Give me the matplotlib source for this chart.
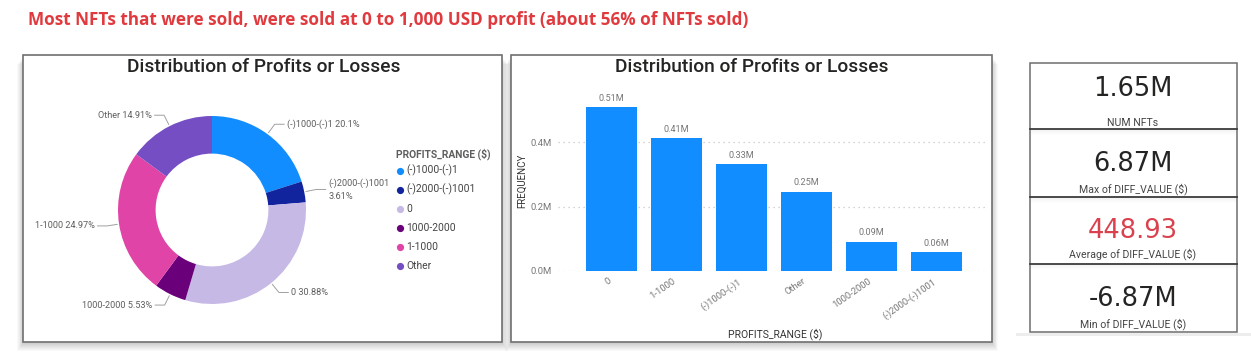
import matplotlib
matplotlib.use("Agg")
import matplotlib.pyplot as plt
import numpy as np
from matplotlib.patches import Rectangle
from matplotlib.transforms import ScaledTranslation

# ---------------- data ----------------
headline = "Most NFTs that were sold, were sold at 0 to 1,000 USD profit (about 56% of NFTs sold)"
chart_title = "Distribution of Profits or Losses"

pie_categories = ["(-)1000-(-)1", "(-)2000-(-)1001", "0", "1000-2000", "1-1000", "Other"]
pie_percent = [20.10, 3.61, 30.88, 5.53, 24.97, 14.91]
pie_colors = ["#118DFF", "#12239E", "#C6B9E6", "#6B007B", "#E044A7", "#744EC2"]
pie_label_wrap = [False, True, False, False, False, False]
legend_title = "PROFITS_RANGE ($)"

bar_categories = ["0", "1-1000", "(-)1000-(-)1", "Other", "1000-2000", "(-)2000-(-)1001"]
bar_values = [0.5095, 0.412, 0.332, 0.246, 0.0912, 0.0596]   # millions
y_ticks = [0.0, 0.2, 0.4]
y_tick_labels = ["0.0M", "0.2M", "0.4M"]
x_label = "PROFITS_RANGE ($)"
y_label = "FREQUENCY"

card_values = ["1.65M", "6.87M", "448.93", "-6.87M"]
card_labels = ["NUM NFTs", "Max of DIFF_VALUE ($)", "Average of DIFF_VALUE ($)", "Min of DIFF_VALUE ($)"]
card_colors = ["#252423", "#252423", "#D9414E", "#252423"]

# ---------------- figure ----------------
W, H = 1251, 360
fig = plt.figure(figsize=(W / 100, H / 100), dpi=100)
fig.patch.set_facecolor("white")

bg = fig.add_axes([0, 0, 1, 1])
bg.set_xlim(0, W)
bg.set_ylim(H, 0)
bg.axis("off")
bg.set_zorder(0)

FONT = "Roboto"
TXT = "#605E5C"


def panel(x0, y0, x1, y1):
    for i in range(1, 9):
        bg.add_patch(Rectangle((x0 - 0.7 * i, y0 + 1 + i), (x1 - x0) + 1.4 * i, (y1 - y0),
                               facecolor="black", edgecolor="none", alpha=0.022))
    bg.add_patch(Rectangle((x0, y0), x1 - x0, y1 - y0, facecolor="white",
                           edgecolor="#707070", lw=1.2))


panel(23, 55, 502, 342)
panel(511, 55, 992, 342)

# headline
bg.text(28, 20, headline, color="#E03A3E", fontsize=12.3, fontweight="bold",
        family="Open Sans", ha="left", va="center")

# panel titles
bg.text(264, 67, chart_title, fontsize=13.8, fontweight="medium", family=FONT,
        color="#252423", ha="center", va="center")
bg.text(752, 67, chart_title, fontsize=13.8, fontweight="medium", family=FONT,
        color="#252423", ha="center", va="center")

# ---------------- donut ----------------
cx, cy, R = 212, 210, 94
half = 150
pax = fig.add_axes([(cx - half) / W, 1 - (cy + half) / H, 2 * half / W, 2 * half / H])
pax.set_zorder(2)
pax.patch.set_alpha(0)
wedges, _ = pax.pie(pie_percent, colors=pie_colors, startangle=90, counterclock=False,
                    radius=1, wedgeprops=dict(width=0.4, edgecolor="none"))
lim = half / R
pax.set_xlim(-lim, lim)
pax.set_ylim(-lim, lim)
pax.set_aspect("equal")
pax.axis("off")


def fmt_pct(p):
    s = f"{p:.2f}".rstrip("0").rstrip(".")
    return s + "%"


for w, cat, p, wrap in zip(wedges, pie_categories, pie_percent, pie_label_wrap):
    th = np.deg2rad((w.theta1 + w.theta2) / 2)
    c, s = np.cos(th), np.sin(th)
    sg = 1 if c >= 0 else -1
    p0 = (1.02 * c, 1.02 * s)
    p1 = (1.13 * c, 1.13 * s)
    p2 = (p1[0] + 0.10 * sg, p1[1])
    pax.plot([p0[0], p1[0], p2[0]], [p0[1], p1[1], p2[1]], color="#A0A0A0", lw=0.7,
             clip_on=False)
    label = f"{cat}\n{fmt_pct(p)}" if wrap else f"{cat} {fmt_pct(p)}"
    pax.text(p2[0] + 0.03 * sg, p2[1], label, ha="left" if sg > 0 else "right", va="center",
             fontsize=6.6, color=TXT, family=FONT, linespacing=1.5, clip_on=False)

# legend
bg.text(396, 154, legend_title, fontsize=7.4, fontweight="bold", color="#605E5C",
        family=FONT, ha="left", va="center")
for i, (cat, col) in enumerate(zip(pie_categories, pie_colors)):
    yy = 170.5 + i * 19.1
    bg.plot([400], [yy], marker="o", ms=5.2, color=col, mec="none")
    bg.text(406, yy, cat, fontsize=7.4, color="#444444", family=FONT, ha="left", va="center")

# ---------------- bar chart ----------------
ax_l, ax_r, ax_b, ax_t = 558, 987, 271, 90.4
bax = fig.add_axes([ax_l / W, 1 - ax_b / H, (ax_r - ax_l) / W, (ax_b - ax_t) / H])
bax.set_zorder(2)
bax.patch.set_alpha(0)
xpos = np.arange(len(bar_categories))
bars = bax.bar(xpos, bar_values, width=0.78, color="#118DFF", zorder=3)
bax.set_xlim(-0.82, 5.77)
bax.set_ylim(0, 0.56)
for sp in bax.spines.values():
    sp.set_visible(False)
bax.set_yticks(y_ticks)
bax.set_yticklabels(y_tick_labels, fontsize=6.8, color="#777777", family=FONT)
bax.yaxis.grid(True, linestyle=(0, (1, 3)), color="#C8C6C4", lw=0.9, zorder=0)
bax.tick_params(axis="both", length=0)
bax.tick_params(axis="y", pad=4.5)
bax.set_xticks(xpos)
bax.set_xticklabels(bar_categories, rotation=35, ha="right", rotation_mode="anchor",
                    fontsize=6.8, color="#777777", family=FONT)
bax.tick_params(axis="x", pad=4)
off = ScaledTranslation(-4 / 100, 0, fig.dpi_scale_trans)
for lab in bax.get_xticklabels():
    lab.set_transform(lab.get_transform() + off)
bax.bar_label(bars, labels=[f"{v:.2f}M" for v in bar_values], padding=3, fontsize=6.6,
              color="#777777", family=FONT)
bax.set_ylabel(y_label, fontsize=7, color="#333333", family=FONT)
bax.yaxis.set_label_coords(-0.073, 0.5)
bax.set_xlabel(x_label, fontsize=7.5, color="#333333", family=FONT)
bax.xaxis.set_label_coords(0.506, -0.316)

# ---------------- cards ----------------
cx0, cx1 = 1030, 1237
edges = [63, 129, 197, 264, 332]
vals_y = [89, 164, 231, 299]
labs_y = [123, 189, 254, 324]
bg.add_patch(Rectangle((1016, 333), 235, 3, facecolor="#EDEDED", edgecolor="none"))
bg.add_patch(Rectangle((cx0, edges[0]), cx1 - cx0, edges[-1] - edges[0], facecolor="white",
                       edgecolor="#6E6E6E", lw=1.1))
for d in edges[1:-1]:
    for i in range(6):
        bg.add_patch(Rectangle((cx0 + 1, d + i), cx1 - cx0 - 2, 1, facecolor="black",
                               edgecolor="none", alpha=0.05 * (6 - i) / 6))
    bg.plot([cx0, cx1], [d, d], color="#3C3C3C", lw=1.3)
xc = (cx0 + cx1) / 2 - 0.5
for v, l, col, vy, ly in zip(card_values, card_labels, card_colors, vals_y, labs_y):
    bg.text(xc, vy, v, fontsize=18.5, color=col, family="DejaVu Sans", ha="center", va="center")
    bg.text(xc, ly, l, fontsize=7.6, color="#444444", family=FONT, ha="center", va="center")

fig.savefig("out.png", dpi=100, facecolor="white")
